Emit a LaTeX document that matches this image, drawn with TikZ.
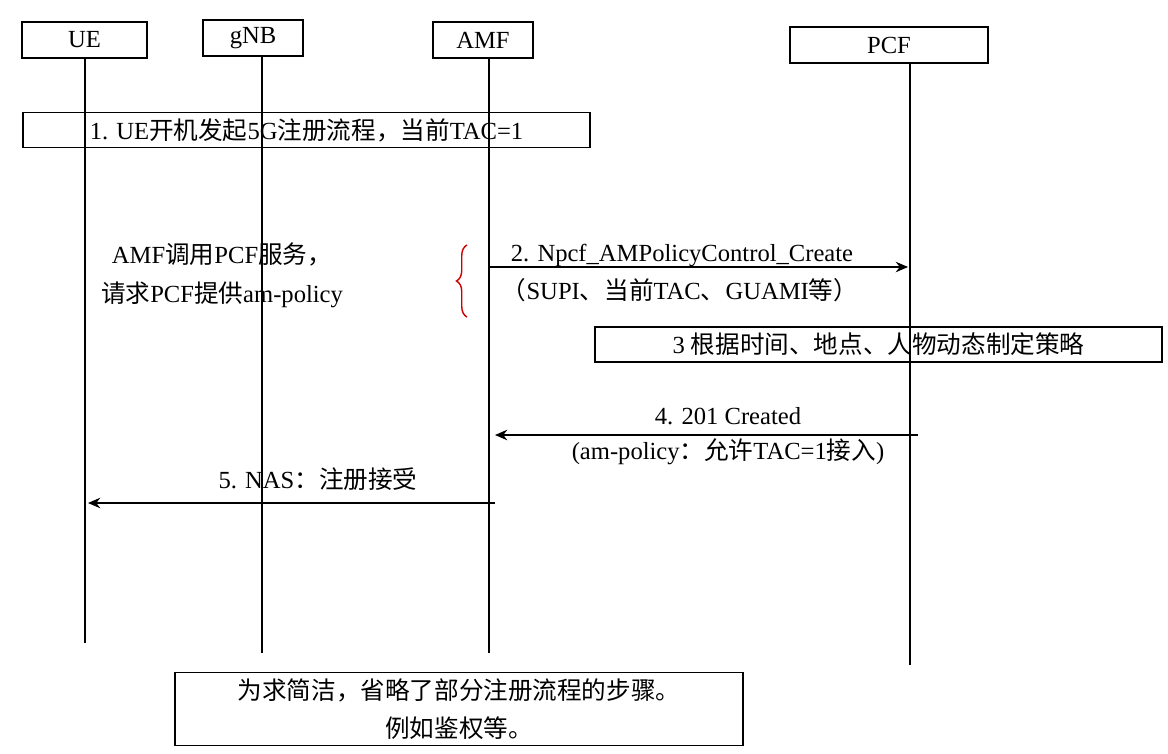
\documentclass[tikz,border=0pt]{standalone}
\usepackage{fontspec}
\setmainfont{Liberation Serif}
\newfontfamily\cjk{Noto Sans CJK SC}
\usetikzlibrary{arrows.meta,decorations.pathreplacing}
\newcommand{\zh}[1]{{\cjk #1}}
\begin{document}
\begin{tikzpicture}[x=0.02cm,y=-0.02cm,
  every node/.style={font=\fontsize{14}{18}\selectfont},
  ent/.style={draw,thick,minimum height=0.72cm,inner sep=0pt},
  note/.style={draw,thick,minimum height=0.7cm,inner sep=0pt},
  life/.style={thick},
  msg/.style={thick,-{Stealth[length=7pt,width=6pt]}}]
\useasboundingbox (0,0) rectangle (1168,753);
\node[ent,minimum width=2.5cm] (ue) at (84.5,40) {UE};
\node[ent,minimum width=2cm] (gnb) at (253,38) {gNB};
\node[ent,minimum width=2cm] (amf) at (483,40) {AMF};
\node[ent,minimum width=3.96cm] (pcf) at (889,45) {PCF};
\coordinate (ueE) at (85,643);
\coordinate (gnbE) at (262,653);
\coordinate (amfE) at (489,653);
\coordinate (pcfE) at (910,665);
\draw[life] (ue.south -| ueE) -- (ueE);
\draw[life] (gnb.south -| gnbE) -- (gnbE);
\draw[life] (amf.south -| amfE) -- (amfE);
\draw[life] (pcf.south -| pcfE) -- (pcfE);
\node[note,minimum width=11.34cm] (s1) at (306.5,130) {1. UE\zh{开机发起}5G\zh{注册流程，当前}TAC=1};
\node[align=center] (t1) at (222,275) {AMF\zh{调用}PCF\zh{服务，}\\[4pt]\zh{请求}PCF\zh{提供}am-policy};
\coordinate (b1) at (467,245); \coordinate (b2) at (467,317);
\draw[red!80!black,thick,decorate,decoration={brace,amplitude=6pt}] (b2) -- (b1);
\coordinate (a2s) at (489,267); \coordinate (a2e) at (908,267);
\draw[msg] (a2s) -- (a2e);
\node (l2a) at (682,255) {2. Npcf\_AMPolicyControl\_Create};
\node (l2b) at (680,290) {\zh{（}SUPI\zh{、当前}TAC\zh{、}GUAMI\zh{等）}};
\node[note,minimum width=11.34cm] (s3) at (878.5,344.5) {3 \zh{根据时间、地点、人物动态制定策略}};
\coordinate (a4s) at (918,435); \coordinate (a4e) at (495,435);
\draw[msg] (a4s) -- (a4e);
\node (l4a) at (728,416) {4. 201 Created};
\node (l4b) at (728,452) {(am-policy\zh{：允许}TAC=1\zh{接入})};
\coordinate (a5s) at (495,503); \coordinate (a5e) at (88,503);
\draw[msg] (a5s) -- (a5e);
\node (l5) at (318,479) {5. NAS\zh{：注册接受}};
\node[draw,thick,minimum width=11.36cm,minimum height=1.44cm,align=center] (s6) at (459,709) {\zh{为求简洁，省略了部分注册流程的步骤。}\\[4pt]\zh{例如鉴权等。}};
\end{tikzpicture}
\end{document}
